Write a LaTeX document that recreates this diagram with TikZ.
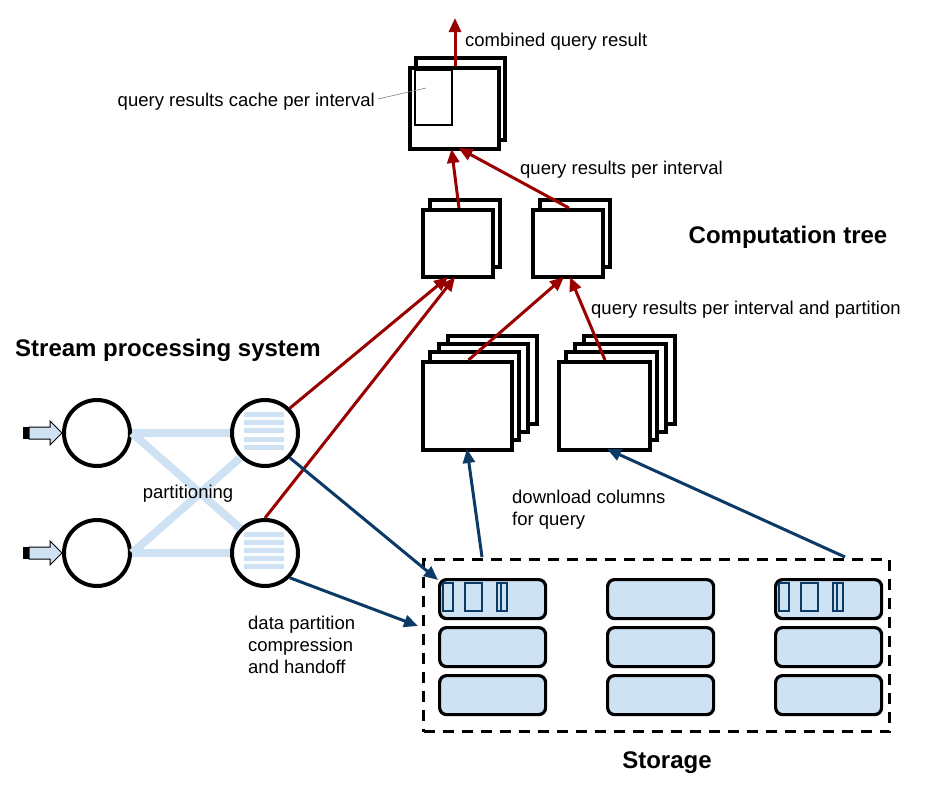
\documentclass[tikz,border=0pt]{standalone}
\usepackage{fontspec}
\setmainfont{Liberation Sans}
\usetikzlibrary{arrows.meta}
\definecolor{lb}{HTML}{CFE2F3}
\definecolor{dred}{HTML}{990000}
\definecolor{dblue}{HTML}{0B3A66}
\begin{document}
\begin{tikzpicture}[x=1pt,y=-1pt,
  lbl/.style={font=\fontsize{18.5}{22}\selectfont,align=left,inner sep=0},
  ttl/.style={font=\fontsize{24}{28}\selectfont\bfseries,inner sep=0},
  box/.style={draw,line width=4pt,fill=white},
  circ/.style={draw,line width=4pt,circle,minimum size=66pt,inner sep=0},
  red/.style={draw=dred,line width=3pt,-{Triangle[length=14pt,width=12pt]}},
  blu/.style={draw=dblue,line width=3pt,-{Triangle[length=14pt,width=12pt]}},
  part/.style={lb,line width=8pt},
  stor/.style={draw,line width=3.2pt,fill=lb,rounded corners=7pt},
  col/.style={draw=dblue,line width=1.4pt}]
\useasboundingbox (0,0) rectangle (937,806);
% titles
\node[ttl,anchor=west] (tsp) at (15,350) {Stream processing system};
\node[ttl] (tct) at (788,237) {Computation tree};
\node[ttl] (tst) at (667,763) {Storage};
% circles
\node[circ] (c1) at (97,433) {};
\node[circ] (c2) at (97,553) {};
\node[circ] (c3) at (265,433) {};
\node[circ] (c4) at (265,553) {};
% partitioning lines
\draw[part] (c1.east) -- (c3.west);
\draw[part] (c2.east) -- (c4.west);
\draw[part] (c1.east) -- (c4.north west);
\draw[part] (c2.east) -- (c3.south west);
\node[lbl] (pl) at (188,494) {partitioning};
\foreach \y in {412,420,428,437,445} \fill[lb] (244,\y) rectangle (284,\y+5);
\foreach \y in {532,540,548,556,564} \fill[lb] (244,\y) rectangle (284,\y+5);
% input arrows
\foreach \c/\y in {c1/433,c2/553}{
  \fill (23,\y-6) rectangle (29,\y+6);
  \draw[fill=lb,line width=1pt] (29,\y-6) -- (50,\y-6) -- (50,\y-12) -- (62,\y) -- (50,\y+12) -- (50,\y+6) -- (29,\y+6) -- cycle;
  \coordinate (ia\c) at (62,\y);
}
% top stack
\draw[box] (416,58) rectangle (505,140);
\node[box,minimum width=89pt,minimum height=81pt,inner sep=0,anchor=north west] (top) at (408,66) {};
\draw[line width=1.8pt] (415,70) rectangle (452,125);
\coordinate (topout) at (455,18);
\draw[red] (455,66) -- (topout);
\node[lbl,anchor=west] (lcomb) at (465,42) {combined query result};
\node[lbl,anchor=east] (lcache) at (375,102) {query results cache per interval};
\draw[gray,line width=0.6pt] (lcache.east) ++(3,-3) -- (426,88);
% mid boxes
\draw[box] (430,200) rectangle (500,267);
\node[box,minimum width=70pt,minimum height=67pt,inner sep=0,anchor=north west] (m1) at (421,208) {};
\draw[box] (540,200) rectangle (610,267);
\node[box,minimum width=70pt,minimum height=67pt,inner sep=0,anchor=north west] (m2) at (531,208) {};
\draw[red] ([xshift=1pt]m1.north) -- ([xshift=-3pt,yshift=2pt]top.south);
\draw[red] ([xshift=1pt]m2.north) -- ([xshift=4pt,yshift=3pt]top.south);
\node[lbl,anchor=west] (lqi) at (520,170) {query results per interval};
% bottom stacks
\foreach \i in {3,2,1} {
  \draw[box] (421+9*\i,360-8*\i) rectangle (510+9*\i,448-8*\i);
  \draw[box] (557+9*\i,360-8*\i) rectangle (648+9*\i,448-8*\i);
}
\node[box,minimum width=89pt,minimum height=88pt,inner sep=0,anchor=north west] (b1) at (421,360) {};
\node[box,minimum width=91pt,minimum height=88pt,inner sep=0,anchor=north west] (b2) at (557,360) {};
\draw[red] ([xshift=1pt]b1.north) -- ([xshift=-4pt,yshift=2pt]m2.south);
\draw[red] ([xshift=-1pt]b2.north east) ++(-46,0) -- ([xshift=2pt,yshift=2pt]m2.south);
\node[lbl,anchor=west] (lqip) at (591,310) {query results per interval and partition};
% red from stream
\draw[red] (c3.north east) -- ([xshift=-10pt,yshift=2pt]m1.south);
\draw[red] (c4.north) -- ([xshift=-3pt,yshift=2pt]m1.south);
% storage
\node[draw,dashed,dash pattern=on 11pt off 8pt,line width=3pt,minimum width=466pt,minimum height=172pt,inner sep=0,anchor=north west] (st) at (422,558) {};
\foreach \x/\n in {438/a,606/b,774/c}{
  \foreach \y/\m in {578/1,626/2,674/3}{
    \node[stor,minimum width=106pt,minimum height=39pt,inner sep=0,anchor=north west] (s\n\m) at (\x,\y) {};
  }
}
\foreach \dx in {0,336}{
  \draw[col] (443+\dx,583) rectangle (453+\dx,611);
  \draw[col] (465+\dx,583) rectangle (482+\dx,611);
  \draw[col] (497+\dx,583) rectangle (507+\dx,611);
  \draw[col] (501+\dx,583) -- (501+\dx,611);
}
\draw[blu] (c3.south east) -- ([yshift=-2pt]sa1.north west);
\draw[blu] (c4.south east) -- ([xshift=-20pt]sa2.north west);
\draw[blu] (482,557) -- ([xshift=46pt,yshift=3pt]b1.south west);
\draw[blu] (845,557) -- ([xshift=50pt,yshift=3pt]b2.south west);
\node[lbl,anchor=north west] (ldl) at (512,490) {download columns\\for query};
\node[lbl,anchor=north west] (ldp) at (248,616) {data partition\\compression\\and handoff};
\end{tikzpicture}
\end{document}
